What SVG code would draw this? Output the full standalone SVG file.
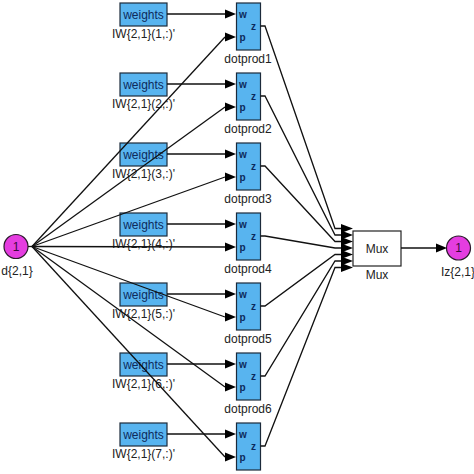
<svg xmlns="http://www.w3.org/2000/svg" width="474" height="474" viewBox="0 0 474 474">
<defs>
<style>
.blk{fill:#58b4ef;stroke:#1c2a3a;stroke-width:1.2}
.port{fill:#e53de0;stroke:#2a1a2a;stroke-width:1.2}
.mux{fill:#ffffff;stroke:#222222;stroke-width:1.2}
.ln{fill:none;stroke:#111111;stroke-width:1.3}
.ah{fill:#000000}
.t{font-family:"Liberation Sans",Arial,sans-serif;font-size:12px;fill:#222222;text-anchor:middle}
.tb{font-family:"Liberation Sans",Arial,sans-serif;font-size:12px;fill:#0d2a5c;text-anchor:middle}
.tp{font-family:"Liberation Sans",Arial,sans-serif;font-size:10px;font-weight:bold;fill:#0d2a5c}
</style>
</defs>
<rect width="474" height="474" fill="#ffffff"/>

<g id="in1">
<circle class="port" cx="16" cy="246.5" r="12"/>
<text class="tb" x="16" y="250.5" style="fill:#3a0a3a">1</text>
<text class="t" x="17" y="275">d{2,1}</text>
</g>

<g id="weights1"><rect class="blk" x="120" y="3" width="47" height="23"/><text class="tb" x="143.5" y="19">weights</text><text class="t" x="143.5" y="38">IW{2,1}(1,:)'</text></g>
<g id="weights2"><rect class="blk" x="120" y="73" width="47" height="23"/><text class="tb" x="143.5" y="89">weights</text><text class="t" x="143.5" y="108">IW{2,1}(2,:)'</text></g>
<g id="weights3"><rect class="blk" x="120" y="143" width="47" height="23"/><text class="tb" x="143.5" y="159">weights</text><text class="t" x="143.5" y="178">IW{2,1}(3,:)'</text></g>
<g id="weights4"><rect class="blk" x="120" y="213" width="47" height="23"/><text class="tb" x="143.5" y="229">weights</text><text class="t" x="143.5" y="248">IW{2,1}(4,:)'</text></g>
<g id="weights5"><rect class="blk" x="120" y="283" width="47" height="23"/><text class="tb" x="143.5" y="299">weights</text><text class="t" x="143.5" y="318">IW{2,1}(5,:)'</text></g>
<g id="weights6"><rect class="blk" x="120" y="353" width="47" height="23"/><text class="tb" x="143.5" y="369">weights</text><text class="t" x="143.5" y="388">IW{2,1}(6,:)'</text></g>
<g id="weights7"><rect class="blk" x="120" y="423" width="47" height="23"/><text class="tb" x="143.5" y="439">weights</text><text class="t" x="143.5" y="458">IW{2,1}(7,:)'</text></g>

<g id="dotprod1"><rect class="blk" x="236.5" y="3" width="24" height="47"/><text class="tp" x="239" y="17.5">w</text><text class="tp" x="239.5" y="40.5">p</text><text class="tp" x="251" y="29.5">z</text><text class="t" x="248" y="63">dotprod1</text></g>
<g id="dotprod2"><rect class="blk" x="236.5" y="73" width="24" height="47"/><text class="tp" x="239" y="87.5">w</text><text class="tp" x="239.5" y="110.5">p</text><text class="tp" x="251" y="99.5">z</text><text class="t" x="248" y="133">dotprod2</text></g>
<g id="dotprod3"><rect class="blk" x="236.5" y="143" width="24" height="47"/><text class="tp" x="239" y="157.5">w</text><text class="tp" x="239.5" y="180.5">p</text><text class="tp" x="251" y="169.5">z</text><text class="t" x="248" y="203">dotprod3</text></g>
<g id="dotprod4"><rect class="blk" x="236.5" y="213" width="24" height="47"/><text class="tp" x="239" y="227.5">w</text><text class="tp" x="239.5" y="250.5">p</text><text class="tp" x="251" y="239.5">z</text><text class="t" x="248" y="273">dotprod4</text></g>
<g id="dotprod5"><rect class="blk" x="236.5" y="283" width="24" height="47"/><text class="tp" x="239" y="297.5">w</text><text class="tp" x="239.5" y="320.5">p</text><text class="tp" x="251" y="309.5">z</text><text class="t" x="248" y="343">dotprod5</text></g>
<g id="dotprod6"><rect class="blk" x="236.5" y="353" width="24" height="47"/><text class="tp" x="239" y="367.5">w</text><text class="tp" x="239.5" y="390.5">p</text><text class="tp" x="251" y="379.5">z</text><text class="t" x="248" y="413">dotprod6</text></g>
<g id="dotprod7"><rect class="blk" x="236.5" y="423" width="24" height="47"/><text class="tp" x="239" y="437.5">w</text><text class="tp" x="239.5" y="460.5">p</text><text class="tp" x="251" y="449.5">z</text></g>

<g id="mux">
<rect class="mux" x="353" y="231" width="48" height="35"/>
<text class="t" x="377" y="252.5">Mux</text>
<text class="t" x="377" y="279">Mux</text>
</g>

<g id="out1">
<circle class="port" cx="458.5" cy="248" r="12"/>
<text class="tb" x="458.5" y="252" style="fill:#3a0a3a">1</text>
<text class="t" x="458" y="276">Iz{2,1}</text>
</g>

<g id="connectors">
<line class="ln" x1="28" y1="246.5" x2="32" y2="246.5"/>
<line class="ln" x1="32" y1="246.5" x2="225" y2="37"/>
<line class="ln" x1="32" y1="246.5" x2="225" y2="107"/>
<line class="ln" x1="32" y1="246.5" x2="225" y2="177"/>
<line class="ln" x1="32" y1="246.5" x2="225" y2="247"/>
<line class="ln" x1="32" y1="246.5" x2="225" y2="317"/>
<line class="ln" x1="32" y1="246.5" x2="225" y2="387"/>
<line class="ln" x1="32" y1="246.5" x2="225" y2="457"/>
<polygon class="ah" points="225,32.5 236,37 225,41.5"/>
<polygon class="ah" points="225,102.5 236,107 225,111.5"/>
<polygon class="ah" points="225,172.5 236,177 225,181.5"/>
<polygon class="ah" points="225,242.5 236,247 225,251.5"/>
<polygon class="ah" points="225,312.5 236,317 225,321.5"/>
<polygon class="ah" points="225,382.5 236,387 225,391.5"/>
<polygon class="ah" points="225,452.5 236,457 225,461.5"/>
<line class="ln" x1="167" y1="14" x2="225" y2="14"/>
<line class="ln" x1="167" y1="84" x2="225" y2="84"/>
<line class="ln" x1="167" y1="154" x2="225" y2="154"/>
<line class="ln" x1="167" y1="224" x2="225" y2="224"/>
<line class="ln" x1="167" y1="294" x2="225" y2="294"/>
<line class="ln" x1="167" y1="364" x2="225" y2="364"/>
<line class="ln" x1="167" y1="434" x2="225" y2="434"/>
<polygon class="ah" points="225,9.5 236,14 225,18.5"/>
<polygon class="ah" points="225,79.5 236,84 225,88.5"/>
<polygon class="ah" points="225,149.5 236,154 225,158.5"/>
<polygon class="ah" points="225,219.5 236,224 225,228.5"/>
<polygon class="ah" points="225,289.5 236,294 225,298.5"/>
<polygon class="ah" points="225,359.5 236,364 225,368.5"/>
<polygon class="ah" points="225,429.5 236,434 225,438.5"/>
<polyline class="ln" points="260.5,26 265,26 335,228.5 341,228.5"/>
<polyline class="ln" points="260.5,96 265,96 335,235 341,235"/>
<polyline class="ln" points="260.5,166 265,166 335,241.5 341,241.5"/>
<polyline class="ln" points="260.5,236 265,236 335,248 341,248"/>
<polyline class="ln" points="260.5,306 265,306 335,254.5 341,254.5"/>
<polyline class="ln" points="260.5,376 265,376 335,261 341,261"/>
<polyline class="ln" points="260.5,446 265,446 335,267.5 341,267.5"/>
<polygon class="ah" points="341,224 353,228.5 341,233"/>
<polygon class="ah" points="341,230.5 353,235 341,239.5"/>
<polygon class="ah" points="341,237 353,241.5 341,246"/>
<polygon class="ah" points="341,243.5 353,248 341,252.5"/>
<polygon class="ah" points="341,250 353,254.5 341,259"/>
<polygon class="ah" points="341,256.5 353,261 341,265.5"/>
<polygon class="ah" points="341,263 353,267.5 341,272"/>
<line class="ln" x1="401" y1="248" x2="436" y2="248"/>
<polygon class="ah" points="436,243.5 447,248 436,252.5"/>
</g>
</svg>
